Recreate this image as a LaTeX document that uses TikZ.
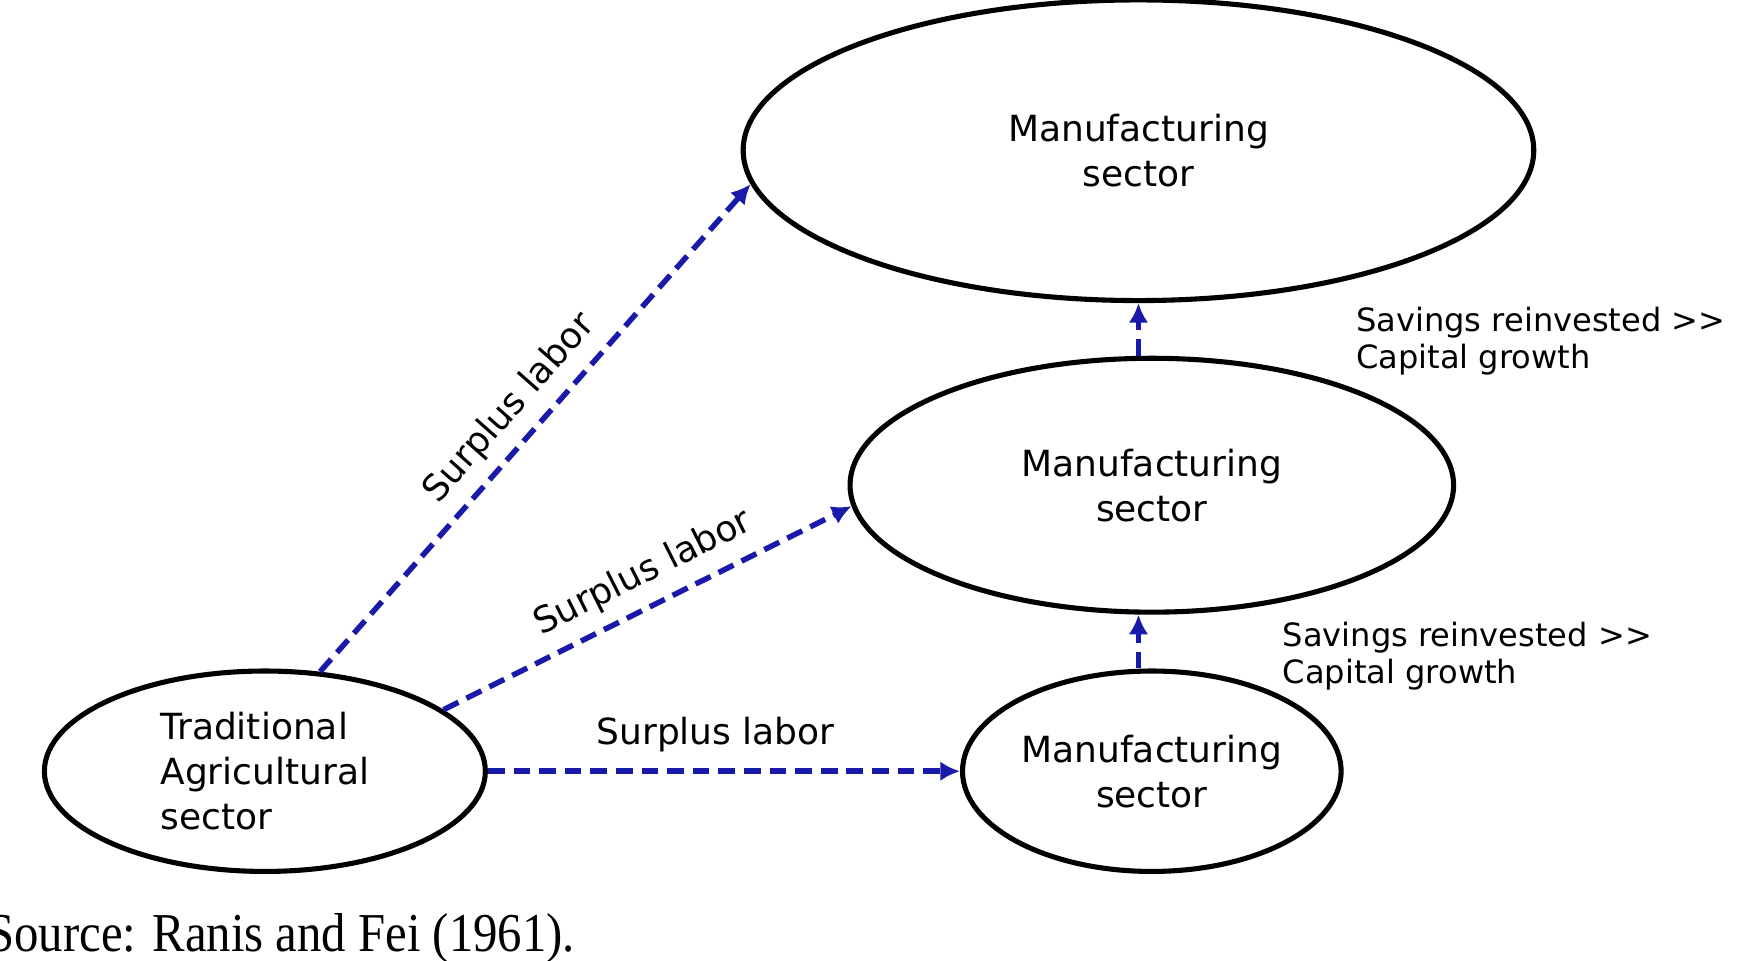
\documentclass[tikz,border=0pt]{standalone}
\usepackage{fontspec}
\setmainfont{DejaVu Sans}
\newfontfamily\srcfont{Liberation Serif}
\usetikzlibrary{shapes.geometric,arrows.meta}
\definecolor{arrblue}{RGB}{25,25,170}
\tikzset{
  sect/.style={ellipse,draw=black,line width=1.3pt,inner sep=0pt,align=center,font=\fontsize{9.2}{11.5}\selectfont},
  flow/.style={draw=arrblue,line width=1.4pt,dash pattern=on 0.15cm off 0.08cm,-{Latex[length=5pt,width=5pt]}},
  lab/.style={font=\fontsize{9.2}{11.5}\selectfont,inner sep=0pt},
  note/.style={font=\fontsize{8.2}{9.6}\selectfont,align=left,anchor=north west,inner sep=0pt}
}
\begin{document}
\begin{tikzpicture}[x=0.01cm,y=-0.01cm]
\useasboundingbox (0,0) rectangle (1568,863);
\clip (0,0) rectangle (1568,863);
\fill[white] (0,0) rectangle (1568,863);
\node[sect,minimum width=7.1cm,minimum height=2.7cm] (top) at (1023,135) {Manufacturing\\sector};
\node[sect,minimum width=5.42cm,minimum height=2.28cm] (mid) at (1035,436) {Manufacturing\\sector};
\node[sect,minimum width=3.4cm,minimum height=1.8cm] (br) at (1035,693) {Manufacturing\\sector};
\node[sect,minimum width=3.96cm,minimum height=1.8cm,align=left] (ag) at (238,693) {Traditional\\Agricultural\\sector};
\draw[flow] (ag.61) -- (top.185);
\draw[flow] (ag.19) -- (mid.184);
\draw[flow] (ag.east) -- (br.west);
\draw[flow] (br.north -| 1023,0) -- (mid.south -| 1023,0);
\draw[flow] (mid.north -| 1023,0) -- (top.south -| 1023,0);
\node[lab,rotate=48.5] (l1) at (458,367) {Surplus labor};
\node[lab,rotate=26.7] (l2) at (578,515) {Surplus labor};
\node[lab] (l3) at (643,660) {Surplus labor};
\node[note] (n1) at (1218,275) {Savings reinvested {>}{>}\\Capital growth};
\node[note] (n2) at (1152,558) {Savings reinvested {>}{>}\\Capital growth};
\node[anchor=base west,inner sep=0pt,xscale=0.89,font=\srcfont\fontsize{14}{16}\selectfont] (src) at (-12,855) {Source: Ranis and Fei (1961).};
\end{tikzpicture}
\end{document}
